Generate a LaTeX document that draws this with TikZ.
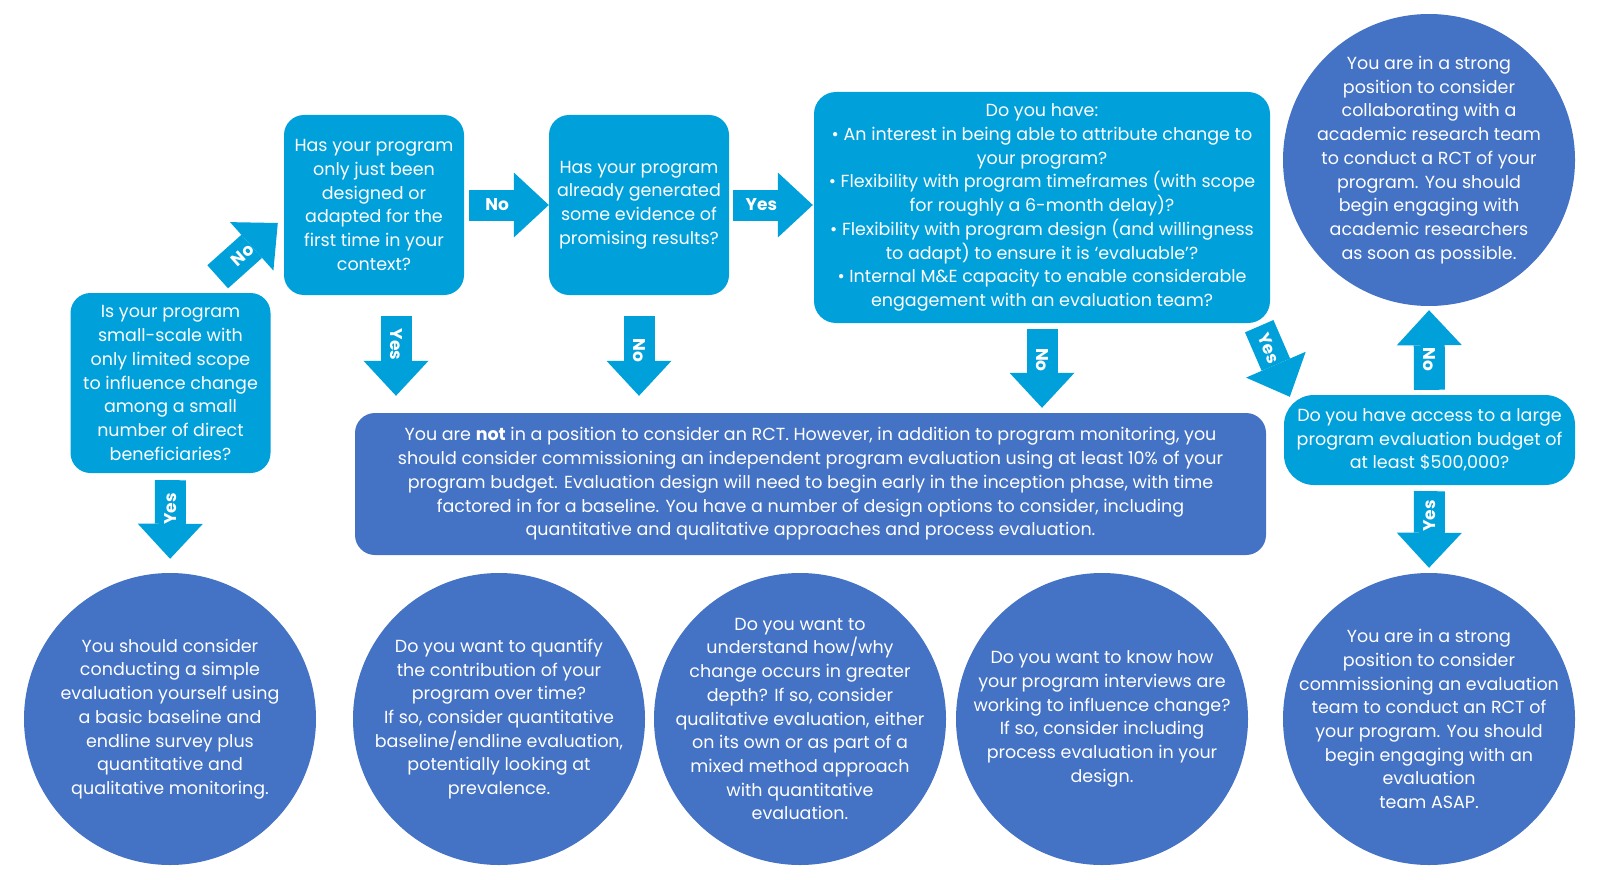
\documentclass[tikz,border=0pt]{standalone}
\usepackage{fontspec}
\setmainfont{Poppins}
\usetikzlibrary{arrows.meta, calc}
\definecolor{qblue}{RGB}{0, 160, 219}
\definecolor{cblue}{RGB}{68, 114, 196}

\begin{document}
\begin{tikzpicture}[x=1pt, y=-1pt,
    txt/.style={font=\fontsize{17.5}{23.7}\selectfont, text=white, align=center, inner sep=0pt},
    qbox/.style={txt, fill=qblue, rounded corners=20pt},
    dcirc/.style={txt, fill=cblue, circle, inner sep=-40pt, minimum size=292pt},
    barrow/.style={qblue, line width=31pt, -{Triangle[length=35pt, width=65pt, line width=0pt]}},
    alabel/.style={font=\fontsize{17}{20}\selectfont\bfseries, text=white, sloped, inner sep=0pt}]
  \useasboundingbox (0,0) rectangle (1600,880);
  \node[qbox, minimum width=200pt, minimum height=180pt] (q1) at (170.5,383) {Is your program\\small-scale with\\only limited scope\\to influence change\\among a small\\number of direct\\beneficiaries?};
  \node[qbox, minimum width=180pt, minimum height=180pt] (q2) at (374,205) {Has your program\\only just been\\designed or\\adapted for the\\first time in your\\context?};
  \node[qbox, minimum width=180pt, minimum height=180pt] (q3) at (639,205) {Has your program\\already generated\\some evidence of\\promising results?};
  \node[qbox, minimum width=456pt, minimum height=231pt, rounded corners=22pt] (q4) at (1042,207.5) {Do you have:\\\textbullet\ An interest in being able to attribute change to\\your program?\\\textbullet\ Flexibility with program timeframes (with scope\\for roughly a 6-month delay)?\\\textbullet\ Flexibility with program design (and willingness\\to adapt) to ensure it is ‘evaluable’?\\\textbullet\ Internal M\&E capacity to enable considerable\\engagement with an evaluation team?};
  \node[qbox, fill=cblue, minimum width=911pt, minimum height=142pt] (r) at (810.5,484) {You are \textbf{not} in a position to consider an RCT. However, in addition to program monitoring, you\\should consider commissioning an independent program evaluation using at least 10\% of your\\program budget. Evaluation design will need to begin early in the inception phase, with time\\factored in for a baseline. You have a number of design options to consider, including\\quantitative and qualitative approaches and process evaluation.};
  \node[qbox, minimum width=291pt, minimum height=90pt, rounded corners=30pt] (q5) at (1429.5,440) {Do you have access to a large\\program evaluation budget of\\at least \$500,000?};
  \node[dcirc] (c1) at (170,719) {You should consider\\conducting a simple\\evaluation yourself using\\a basic baseline and\\endline survey plus\\quantitative and\\qualitative monitoring.};
  \node[dcirc] (c2) at (499,719) {Do you want to quantify\\the contribution of your\\program over time?\\If so, consider quantitative\\baseline/endline evaluation,\\potentially looking at\\prevalence.};
  \node[dcirc] (c3) at (800,719) {Do you want to\\understand how/why\\change occurs in greater\\depth? If so, consider\\qualitative evaluation, either\\on its own or as part of a\\mixed method approach\\with quantitative\\evaluation.};
  \node[dcirc] (c4) at (1102,719) {Do you want to know how\\your program interviews are\\working to influence change?\\If so, consider including\\process evaluation in your\\design.};
  \node[dcirc] (c5) at (1429,160) {You are in a strong\\position to consider\\collaborating with a\\academic research team\\to conduct a RCT of your\\program. You should\\begin engaging with\\academic researchers\\as soon as possible.};
  \node[dcirc] (c6) at (1429,719) {You are in a strong\\position to consider\\commissioning an evaluation\\team to conduct an RCT of\\your program. You should\\begin engaging with an\\evaluation\\team ASAP.};
  \coordinate (q2y) at ($(q2.south)+(22,0)$);
  \draw[barrow, shorten <=7pt, shorten >=14pt] (q1.south) -- (c1.north) node[alabel, pos=0.36] {Yes};
  \draw[barrow] ($(q1.north east)+(-53,-16)$) -- ($(q2.west)+(-6,18)$) node[alabel, pos=0.41] {No};
  \draw[barrow, shorten <=21pt, shorten >=17pt] (q2y) -- (q2y |- r.north) node[alabel, pos=0.42] {Yes};
  \draw[barrow, shorten <=5pt] (q2.east) -- (q3.west) node[alabel, pos=0.39] {No};
  \draw[barrow, shorten <=21pt, shorten >=17pt] (q3.south) -- (q3.south |- r.north) node[alabel, pos=0.47] {No};
  \draw[barrow, shorten <=4pt, shorten >=1pt] (q3.east) -- (q3.east -| q4.west) node[alabel, pos=0.38] {Yes};
  \draw[barrow, shorten <=6pt, shorten >=5pt] (q4.south) -- (q4.south |- r.north) node[alabel, pos=0.41] {No};
  \draw[barrow] ($(q4.south east)+(-11,3)$) -- ($(q5.north west)+(6,2)$) node[alabel, pos=0.31] {Yes};
  \draw[barrow, shorten <=5pt, shorten >=4pt] (q5.north) -- (c5.south) node[alabel, pos=0.4] {No};
  \draw[barrow, shorten <=6pt, shorten >=5pt] (q5.south) -- (c6.north) node[alabel, pos=0.35] {Yes};
\end{tikzpicture}
\end{document}
